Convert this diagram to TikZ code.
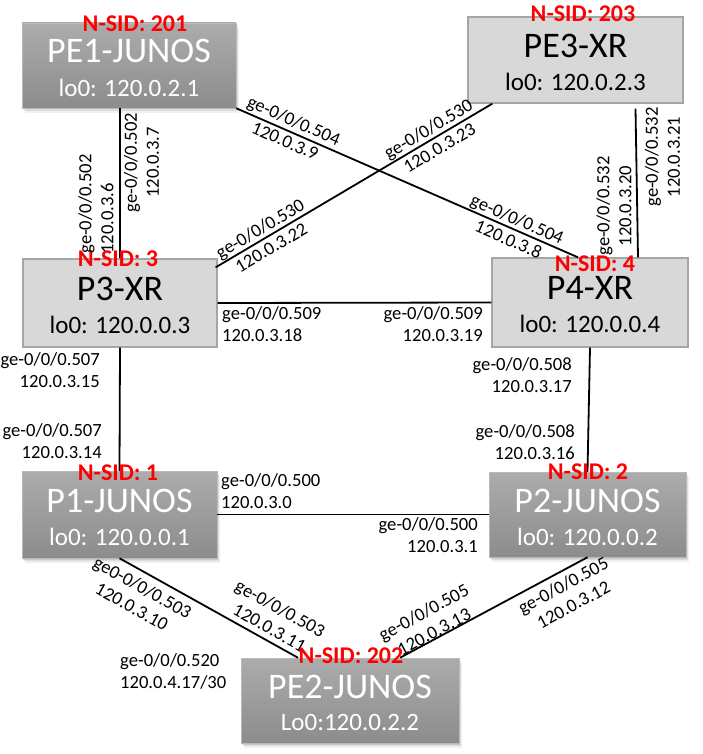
\documentclass[tikz,border=0pt]{standalone}
\usepackage{fontspec}
\setmainfont{Carlito}
\usetikzlibrary{calc,shadows}
\definecolor{sidred}{RGB}{255,0,0}
\definecolor{darktop}{RGB}{172,172,172}
\definecolor{darkbot}{RGB}{140,140,140}
\definecolor{darkedge}{RGB}{185,185,185}
\definecolor{lightfill}{RGB}{216,216,216}
\definecolor{lightdraw}{RGB}{165,165,165}
\begin{document}
\begin{tikzpicture}[x=1pt,y=-1pt,
  darkbox/.style={rectangle, inner sep=0pt, shading=axis, top color=darktop, bottom color=darkbot, draw=darkedge, line width=0.5pt,
    drop shadow={opacity=0.12, shadow xshift=3pt, shadow yshift=-5pt},
    drop shadow={opacity=0.18, shadow xshift=2pt, shadow yshift=-3pt},
    drop shadow={opacity=0.2, shadow xshift=1pt, shadow yshift=-1.5pt}},
  lightbox/.style={rectangle, inner sep=0pt, fill=lightfill, draw=lightdraw, line width=1.3pt},
  rname/.style={anchor=base, inner sep=0pt, font=\fontsize{36}{40}\selectfont},
  rlo/.style={anchor=base, inner sep=0pt, font=\fontsize{25}{28}\selectfont},
  sid/.style={anchor=base, inner sep=0pt, text=sidred, font=\fontsize{24}{26}\selectfont\bfseries},
  lbl/.style={inner sep=0pt, font=\fontsize{18.6}{22}\selectfont},
  link/.style={line width=1.8pt, draw=black}]
\useasboundingbox (0,0) rectangle (702,754);

% boxes
\node[darkbox, minimum width=214pt, minimum height=85pt] (pe1) at (129,65.5) {};
\node[lightbox, minimum width=215pt, minimum height=86pt] (pe3) at (575.5,60) {};
\node[lightbox, minimum width=194pt, minimum height=88pt] (p3) at (120,303) {};
\node[lightbox, minimum width=196pt, minimum height=89pt] (p4) at (590,302.5) {};
\node[darkbox, minimum width=195pt, minimum height=87pt] (p1) at (119.5,514.5) {};
\node[darkbox, minimum width=197pt, minimum height=85pt] (p2) at (587.5,514.5) {};
\node[darkbox, minimum width=218pt, minimum height=85pt] (pe2) at (350,700.5) {};

% connectors
\draw[link] (p3.north |- pe1.south) -- (p3.north);
\draw[link] ($(pe3.south)+(60,5)$) -- ($(p4.north)+(48,0)$);
\draw[link] (pe1.south east) -- ($(p4.north)+(-12,0)$)
  node[lbl, pos=0.155, sloped, yshift=1pt, align=center] (l5) {ge-0/0/0.504\\120.0.3.9}
  node[lbl, pos=0.81, sloped, align=center] (l6) {ge-0/0/0.504\\120.0.3.8};
\draw[link] ($(pe3.south west)+(25,0)$) -- ($(p3.north east)+(-2,9)$)
  node[lbl, pos=0.212, sloped, align=center] (l7) {ge-0/0/0.530\\120.0.3.23}
  node[lbl, pos=0.82, sloped, align=center] (l8) {ge-0/0/0.530\\120.0.3.22};
\draw[link] (p3.east) -- (p4.west);
\draw[link] (p3.south) -- (p1.north);
\draw[link] (p4.south) -- (p2.north);
\draw[link] (p1.east) -- (p2.west);
\draw[link] (p1.south) -- ($(pe2.north)+(-52,0)$)
  node[lbl, pos=0.168, sloped, yshift=-25pt, align=center] (l17) {ge0-0/0/0.503\\120.0.3.10}
  node[lbl, pos=0.807, sloped, yshift=23.5pt, align=center] (l18) {ge-0/0/0.503\\120.0.3.11};
\draw[link] ($(pe2.north)+(50,0)$) -- (p2.south)
  node[lbl, pos=0.837, sloped, yshift=-24pt, align=center] (l19) {ge-0/0/0.505\\120.0.3.12}
  node[lbl, pos=0.199, sloped, yshift=18pt, align=center] (l20) {ge-0/0/0.505\\120.0.3.13};

% box texts
\node[rname, text=white] (pe1n) at (129,63) {PE1-JUNOS};
\node[rlo, text=white] (pe1l) at (129,97) {lo0: 120.0.2.1};
\node[rname] (pe3n) at (575.5,58) {PE3-XR};
\node[rlo] (pe3l) at (575.5,91) {lo0: 120.0.2.3};
\node[rname] (p3n) at (120,300) {P3-XR};
\node[rlo] (p3l) at (120,333) {lo0: 120.0.0.3};
\node[rname] (p4n) at (590,299) {P4-XR};
\node[rlo] (p4l) at (590,332) {lo0: 120.0.0.4};
\node[rname, text=white] (p1n) at (119.5,512) {P1-JUNOS};
\node[rlo, text=white] (p1l) at (119.5,545) {lo0: 120.0.0.1};
\node[rname, text=white] (p2n) at (587.5,512) {P2-JUNOS};
\node[rlo, text=white] (p2l) at (587.5,545) {lo0: 120.0.0.2};
\node[rname, text=white] (pe2n) at (350,698) {PE2-JUNOS};
\node[rlo, text=white] (pe2l) at (350,730) {Lo0:120.0.2.2};

% N-SID labels
\node[sid] (s201) at (135,32) {N-SID: 201};
\node[sid] (s203) at (583,21.5) {N-SID: 203};
\node[sid] (s3) at (118,266.5) {N-SID: 3};
\node[sid] (s4) at (595,271.5) {N-SID: 4};
\node[sid] (s1) at (118,480) {N-SID: 1};
\node[sid] (s2) at (588,479) {N-SID: 2};
\node[sid] (s202) at (351,663) {N-SID: 202};

% link labels
\node[lbl, rotate=90, align=left] (l1) at (96,204) {ge-0/0/0.502\\120.0.3.6};
\node[lbl, rotate=90, align=center] (l2) at (141.5,162.5) {ge-0/0/0.502\\120.0.3.7};
\node[lbl, rotate=90, align=center] (l3) at (614,206) {ge-0/0/0.532\\120.0.3.20};
\node[lbl, rotate=90, align=center] (l4) at (662.5,157) {ge-0/0/0.532\\120.0.3.21};
\node[lbl, anchor=west, align=left] (l9) at (222,324.5) {ge-0/0/0.509\\120.0.3.18};
\node[lbl, anchor=east, align=right] (l10) at (483,324.5) {ge-0/0/0.509\\120.0.3.19};
\node[lbl, anchor=east, align=right] (l11) at (100,370) {ge-0/0/0.507\\120.0.3.15};
\node[lbl, anchor=east, align=right] (l12) at (102,441.5) {ge-0/0/0.507\\120.0.3.14};
\node[lbl, anchor=east, align=right] (l13) at (572,375.5) {ge-0/0/0.508\\120.0.3.17};
\node[lbl, anchor=east, align=right] (l14) at (575,442.5) {ge-0/0/0.508\\120.0.3.16};
\node[lbl, anchor=west, align=left] (l15) at (221,491.5) {ge-0/0/0.500\\120.0.3.0};
\node[lbl, anchor=east, align=right] (l16) at (478,535) {ge-0/0/0.500\\120.0.3.1};
\node[lbl, anchor=west, align=left] (l21) at (120,671.5) {ge-0/0/0.520\\120.0.4.17/30};
\end{tikzpicture}
\end{document}
